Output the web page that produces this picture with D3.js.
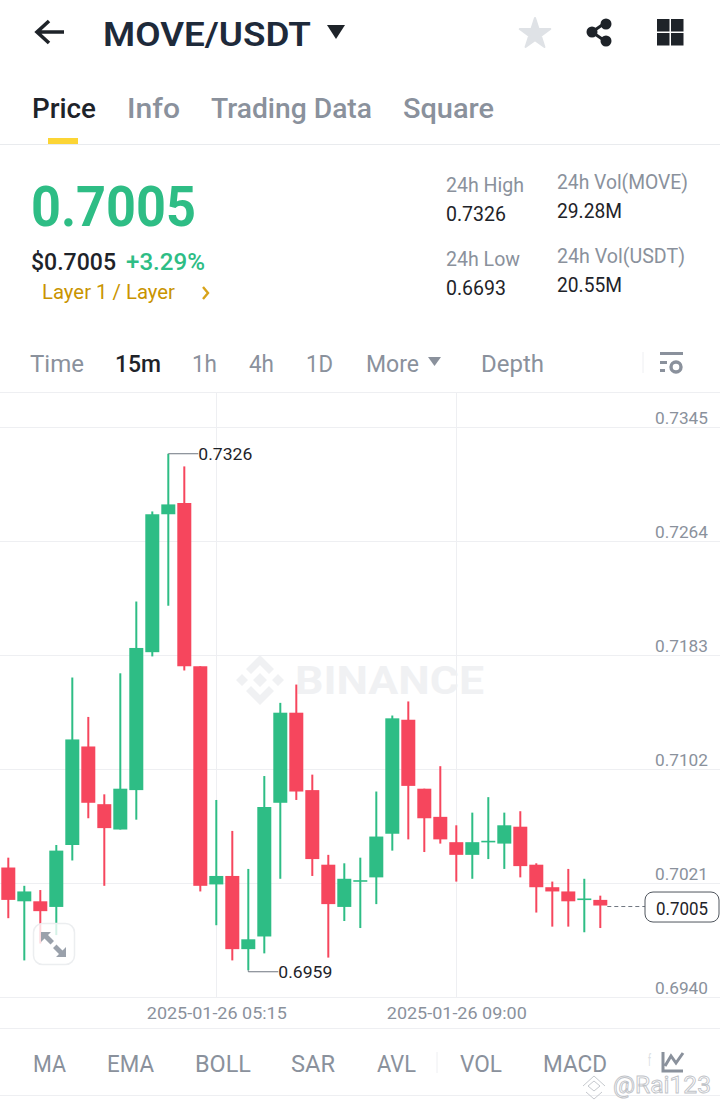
<!DOCTYPE html>
<html>
<head>
<meta charset="utf-8">
<script src="https://cdnjs.cloudflare.com/ajax/libs/d3/7.8.5/d3.min.js"></script>
<style>
html, body { margin: 0; padding: 0; background: #fff; }
svg { display: block; font-family: Roboto, sans-serif; }
</style>
</head>
<body>
<svg id="chart" width="720" height="1107"></svg>
<script>
// 15m candles
var opens  = [0.7032, 0.7008, 0.7008, 0.7004, 0.7048, 0.7118, 0.7077, 0.7059, 0.7087, 0.7185,
              0.7283, 0.7291, 0.7175, 0.7020, 0.7026, 0.6974, 0.6983, 0.7078, 0.7142, 0.7087,
              0.7034, 0.7004, 0.7023, 0.7025, 0.7056, 0.7137, 0.7088, 0.7068, 0.7050, 0.7041,
              0.7051, 0.7049, 0.7061, 0.7034, 0.7018, 0.7015, 0.7010, 0.7009];
var highs  = [0.7039, 0.7019, 0.7016, 0.7048, 0.7167, 0.7139, 0.7084, 0.7170, 0.7221, 0.7285,
              0.7326, 0.7317, 0.7175, 0.7080, 0.7058, 0.7031, 0.7097, 0.7149, 0.7162, 0.7098,
              0.7041, 0.7035, 0.7039, 0.7086, 0.7140, 0.7150, 0.7088, 0.7104, 0.7062, 0.7071,
              0.7082, 0.7071, 0.7072, 0.7035, 0.7022, 0.7031, 0.7024, 0.7012];
var lows   = [0.6996, 0.6966, 0.6978, 0.6984, 0.7037, 0.7067, 0.7019, 0.7059, 0.7066, 0.7182,
              0.7218, 0.7172, 0.7015, 0.6991, 0.6966, 0.6959, 0.6971, 0.7024, 0.7080, 0.7026,
              0.6968, 0.6994, 0.6989, 0.7006, 0.7044, 0.7052, 0.7043, 0.7049, 0.7022, 0.7024,
              0.7038, 0.7031, 0.7025, 0.7000, 0.6990, 0.6990, 0.6986, 0.6989];
var closes = [0.7009, 0.7015, 0.7001, 0.7044, 0.7123, 0.7078, 0.7060, 0.7088, 0.7188, 0.7283,
              0.7290, 0.7175, 0.7019, 0.7026, 0.6974, 0.6981, 0.7075, 0.7142, 0.7086, 0.7038,
              0.7006, 0.7024, 0.7023, 0.7054, 0.7138, 0.7090, 0.7067, 0.7052, 0.7041, 0.7050,
              0.7051, 0.7062, 0.7033, 0.7018, 0.7015, 0.7008, 0.7010, 0.7005];
var priceTicks = [0.7345, 0.7264, 0.7183, 0.7102, 0.7021, 0.6940];
var timeTicks = ['2025-01-26 05:15', '2025-01-26 09:00'];
var firstCandle = '2025-01-26 02:00';

var GREEN = '#2ebd85', RED = '#f6465d', INK = '#1e2329', GREY = '#8a919c', RULE = '#eeeff2';

var parse = d3.timeParse('%Y-%m-%d %H:%M'),
    format = d3.timeFormat('%Y-%m-%d %H:%M'),
    fmt4 = d3.format('.4f'),
    step = 15 * 60 * 1000,
    t0 = parse(firstCandle);

function timeOf(i) { return new Date(t0.getTime() + i * step); }

var svg = d3.select('#chart');

var x = d3.scaleTime()
    .domain([timeOf(0), timeOf(opens.length - 1)])
    .range([8.3, 600.3]);
var y = d3.scaleLinear()
    .domain([0.6940, 0.7345])
    .range([997, 427]);

// Text squeezed to the measured width, the app font is narrower than Roboto
function label(txt, x0, x1, base, size, weight, color) {
    return svg.append('text')
        .attr('x', x0).attr('y', base)
        .attr('font-size', size)
        .attr('font-weight', weight)
        .attr('fill', color)
        .attr('textLength', x1 - x0)
        .attr('lengthAdjust', 'spacingAndGlyphs')
        .text(txt);
}
function rule(x0, x1, y0, y1, color) {
    svg.append('line')
        .attr('x1', x0).attr('x2', x1).attr('y1', y0).attr('y2', y1)
        .attr('stroke', color || RULE).attr('stroke-width', 1);
}

// Header
svg.append('path').attr('d', 'M64 32H38M49 21L37 32L49 43')
    .attr('fill', 'none').attr('stroke', INK).attr('stroke-width', 3.6);
label('MOVE/USDT', 103, 311, 46, 34, 600, '#1e2a3a');
svg.append('path').attr('d', 'M327 25H345L336 39Z').attr('fill', INK);
svg.append('path').attr('fill', '#dfe2e6').attr('stroke', '#dfe2e6')
    .attr('stroke-width', 2).attr('stroke-linejoin', 'round')
    .attr('d', d3.symbol().type(d3.symbolStar).size(290)()).attr('transform', 'translate(535,34)');
svg.append('path').attr('d', 'M605 23L592 32L605 41').attr('fill', 'none').attr('stroke', INK).attr('stroke-width', 3);
[[606, 24], [592, 32], [606, 41]].forEach(function(c) {
    svg.append('circle').attr('cx', c[0]).attr('cy', c[1]).attr('r', 5.5).attr('fill', INK);
});
[[657, 19], [671, 19], [657, 33], [671, 33]].forEach(function(c) {
    svg.append('rect').attr('x', c[0]).attr('y', c[1]).attr('width', 12.5).attr('height', 12.5).attr('fill', INK);
});

// Tabs
label('Price', 32, 96, 118, 28, 500, INK);
label('Info', 127, 180, 118, 28, 500, GREY);
label('Trading Data', 211, 372, 118, 28, 500, GREY);
label('Square', 403, 494, 118, 28, 500, GREY);
svg.append('rect').attr('x', 48).attr('y', 138).attr('width', 30).attr('height', 6).attr('fill', '#fcd535');
rule(0, 720, 144.5, 144.5, '#e9ebee');

// Price block
label('0.7005', 31, 196, 226, 55, 700, GREEN);
label('$0.7005', 31, 116, 270, 24, 500, INK);
label('+3.29%', 126, 205, 270, 24, 500, GREEN);
label('Layer 1 / Layer', 42, 175, 299, 21, 400, '#c99400');
svg.append('path').attr('d', 'M203 287L208 293L203 299').attr('fill', 'none').attr('stroke', '#d8a31a').attr('stroke-width', 2.4);
label('24h High', 446, 524, 192, 20, 400, GREY);
label('0.7326', 446, 506, 221, 20, 400, INK);
label('24h Low', 446, 520, 266, 20, 400, GREY);
label('0.6693', 446, 506, 295, 20, 400, INK);
label('24h Vol(MOVE)', 557, 688, 189, 20, 400, GREY);
label('29.28M', 557, 622, 218, 20, 400, INK);
label('24h Vol(USDT)', 557, 685, 263, 20, 400, GREY);
label('20.55M', 557, 622, 292, 20, 400, INK);

// Interval bar
label('Time', 30, 84, 372, 24, 400, GREY);
label('15m', 115, 161, 372, 24, 500, INK);
label('1h', 192, 217, 372, 24, 400, GREY);
label('4h', 249, 274, 372, 24, 400, GREY);
label('1D', 306, 333, 372, 24, 400, GREY);
label('More', 366, 419, 372, 24, 400, GREY);
svg.append('path').attr('d', 'M428 357H441L434.5 366Z').attr('fill', GREY);
label('Depth', 481, 544, 372, 24, 400, GREY);
rule(643, 643, 352, 373);
svg.append('rect').attr('x', 660).attr('y', 352).attr('width', 23).attr('height', 3).attr('fill', GREY);
svg.append('rect').attr('x', 660).attr('y', 361).attr('width', 7).attr('height', 3).attr('fill', GREY);
svg.append('rect').attr('x', 660).attr('y', 369).attr('width', 5).attr('height', 3).attr('fill', GREY);
svg.append('circle').attr('cx', 676).attr('cy', 367).attr('r', 5).attr('fill', 'none').attr('stroke', GREY).attr('stroke-width', 3.4);
rule(0, 720, 392.5, 392.5);

// Vertical grid sits on the two time ticks
timeTicks.forEach(function(t) {
    var px = Math.round(x(parse(t))) + 0.5;
    rule(px, px, 393, 997);
});

// Watermark, under the candles
var wm = svg.append('g').attr('fill', '#f0f1f3');
wm.append('path').attr('transform', 'translate(260,680)')
    .attr('fill-rule', 'evenodd')
    .attr('d', 'M0 -25L14 -11L9 -6L0 -15L-9 -6L-14 -11ZM-24 0L-18 -6L-12 0L-18 6ZM24 0L18 -6L12 0L18 6ZM0 -7L7 0L0 7L-7 0ZM0 25L14 11L9 6L0 15L-9 6L-14 11Z');
wm.append('text').attr('x', 295).attr('y', 694).attr('font-size', 39).attr('font-weight', 700)
    .attr('textLength', 189).attr('lengthAdjust', 'spacingAndGlyphs').text('BINANCE');

// Y axis, labels ride just above their grid lines
var yAxis = d3.axisRight(y).tickValues(priceTicks).tickFormat(fmt4).tickSize(720).tickPadding(0);
var yG = svg.append('g').attr('class', 'y-axis').call(yAxis);
yG.select('.domain').remove();
yG.selectAll('.tick line').attr('stroke', RULE);
yG.selectAll('.tick text')
    .attr('x', 708).attr('dy', -4)
    .attr('text-anchor', 'end')
    .attr('font-family', 'Roboto, sans-serif')
    .attr('font-size', 17)
    .attr('fill', GREY)
    .attr('textLength', 53)
    .attr('lengthAdjust', 'spacingAndGlyphs');

// X axis
var xAxis = d3.axisBottom(x).tickValues(timeTicks.map(parse)).tickFormat(format).tickSize(0).tickPadding(0);
var xG = svg.append('g').attr('class', 'x-axis').attr('transform', 'translate(0,1007)').call(xAxis);
xG.select('.domain').remove();
xG.selectAll('.tick text')
    .attr('font-family', 'Roboto, sans-serif')
    .attr('font-size', 17)
    .attr('fill', GREY)
    .attr('textLength', 140)
    .attr('lengthAdjust', 'spacingAndGlyphs');
rule(0, 720, 1028.5, 1028.5);

// Candles
var candles = opens.map(function(o, i) {
    return {i: i, o: o, h: highs[i], l: lows[i], c: closes[i]};
});
function colour(d) { return d.c >= d.o ? GREEN : RED; }

var g = svg.append('g').attr('class', 'candles');
g.selectAll('line').data(candles).enter().append('line')
    .attr('x1', function(d) { return x(timeOf(d.i)); })
    .attr('x2', function(d) { return x(timeOf(d.i)); })
    .attr('y1', function(d) { return y(d.h); })
    .attr('y2', function(d) { return y(d.l); })
    .attr('stroke', colour)
    .attr('stroke-width', 2);
g.selectAll('rect').data(candles).enter().append('rect')
    .attr('x', function(d) { return x(timeOf(d.i)) - 7; })
    .attr('width', 14)
    .attr('y', function(d) { return y(Math.max(d.o, d.c)); })
    .attr('height', function(d) { return Math.max(1.6, Math.abs(y(d.o) - y(d.c))); })
    .attr('fill', colour);

// High / low callouts, the low one hangs a touch under its wick
[[d3.maxIndex(highs), d3.max(highs), 0], [d3.minIndex(lows), d3.min(lows), 1.5]].forEach(function(m) {
    var cx = x(timeOf(m[0])), cy = y(m[1]);
    svg.append('path')
        .attr('d', d3.line()([[cx, cy], [cx, cy + m[2]], [cx + 30, cy + m[2]]]))
        .attr('fill', 'none').attr('stroke', '#6f7680');
    label(fmt4(m[1]), cx + 30, cx + 84, cy + m[2] + 6, 17, 400, INK);
});

// Last price line and tag
var last = closes[closes.length - 1], lastY = y(last) + 1;
svg.append('line')
    .attr('x1', x(timeOf(closes.length - 1)) + 7).attr('x2', 645)
    .attr('y1', lastY).attr('y2', lastY)
    .attr('stroke', '#6f7680').attr('stroke-dasharray', '4 3');
svg.append('rect')
    .attr('x', 645).attr('y', lastY - 14.5).attr('width', 74).attr('height', 30).attr('rx', 8)
    .attr('fill', '#fff').attr('stroke', '#50565e').attr('stroke-width', 1);
label(fmt4(last), 656, 708, lastY + 8.5, 18, 400, INK);

// Expand button, floats over the candles
svg.append('rect')
    .attr('x', 33.5).attr('y', 923.5).attr('width', 41).attr('height', 41).attr('rx', 9)
    .attr('fill', '#fff').attr('fill-opacity', 0.8).attr('stroke', '#eceef0').attr('stroke-width', 1.5);
svg.append('path').attr('fill', '#9aa1ab')
    .attr('d', 'M41 932H51L48 935L54 941L50.5 944.5L44.5 938.5L41 942ZM66 957H56L59 954L53 948L56.5 944.5L62.5 950.5L66 947Z');

// Indicator bar
[['MA', 33, 66], ['EMA', 107, 154], ['BOLL', 195, 251], ['SAR', 291, 335], ['AVL', 377, 416], ['VOL', 460, 502], ['MACD', 543, 607]]
    .forEach(function(b) { label(b[0], b[1], b[2], 1072, 24, 400, GREY); });
rule(437, 437, 1052, 1073);
label('f', 648, 651, 1066, 16, 400, '#dcdfe3');
svg.append('path').attr('d', 'M663 1052V1071H683M665 1066L671 1056L676 1063L683 1053')
    .attr('fill', 'none').attr('stroke', GREY).attr('stroke-width', 3);
rule(0, 720, 1095.5, 1095.5);

// Poster's watermark
var mark = svg.append('g').attr('fill', '#fff').attr('stroke', '#bfc3c8').attr('stroke-width', 0.9);
mark.append('text').attr('x', 613).attr('y', 1093).attr('font-size', 24)
    .attr('textLength', 98).attr('lengthAdjust', 'spacingAndGlyphs').text('@Rai123');
mark.append('path').attr('fill', 'none')
    .attr('d', 'M583 1086L594 1076L605 1086M588 1086L594 1081L600 1086L594 1091ZM586 1092L594 1099L602 1092');
</script>
</body>
</html>
